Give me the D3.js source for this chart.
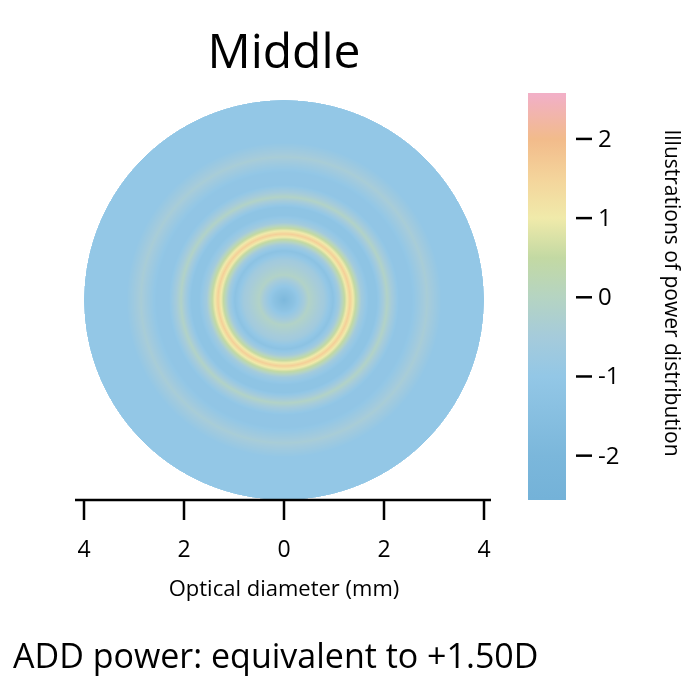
<!DOCTYPE html>
<html><head><meta charset="utf-8">
<script src="https://cdn.jsdelivr.net/npm/d3@7"></script>
<style>body{margin:0;background:#fff}#c{position:relative;width:700px;height:700px}canvas,svg{position:absolute;left:0;top:0}</style>
</head><body><div id="c"></div>
<script>
// radial power profile (mm -> D)
const radiusMm = [0, 0.2, 0.5, 0.8, 0.98, 1.1, 1.32, 1.55, 1.7, 1.85, 2.06, 2.3, 2.55, 2.86, 3.15, 4];
const power    = [-1.9, -1.3, -0.1, -0.6, -1.3, -0.6, 1.6, -0.6, -1.2, -1.2, -0.1, -1.1, -1.1, -0.4, -1.0, -1.0];
const barTicks = [2, 1, 0, -1, -2];
const axisTicks = [-4, -2, 0, 2, 4];
const colorStops = [-2.55, -2, -1, -0.5, 0, 0.5, 1, 1.5, 2, 2.55];
const colorVals = ["#74b2d8", "#7bb7db", "#93c7e6", "#a5cbdb", "#b5d4c2", "#c3d9a3", "#f0eaaa", "#f4d49b", "#f2bb8b", "#f2b0c6"];

const W = 700, H = 700, cx = 284, cy = 300, R = 200;
const color = d3.scaleLinear().domain(colorStops).range(colorVals).clamp(true);
const prof = d3.scaleLinear().domain(radiusMm).range(power).clamp(true);
const x = d3.scaleLinear().domain([-4, 4]).range([cx - R, cx + R]);

const canvas = d3.select("#c").append("canvas").attr("width", W).attr("height", H).node();
const ctx = canvas.getContext("2d");
const img = ctx.createImageData(2 * R, 2 * R);
for (let j = 0; j < 2 * R; j++) for (let i = 0; i < 2 * R; i++) {
  const dx = i - R + 0.5, dy = j - R + 0.5, d = Math.hypot(dx, dy);
  const k = 4 * (j * 2 * R + i);
  if (d > R) { img.data[k + 3] = 0; continue; }
  const c = d3.rgb(color(prof(d / R * 4)));
  img.data[k] = c.r; img.data[k + 1] = c.g; img.data[k + 2] = c.b;
  img.data[k + 3] = Math.min(1, R - d + 0.5) * 255;
}
ctx.putImageData(img, cx - R, cy - R);

const svg = d3.select("#c").append("svg").attr("width", W).attr("height", H)
  .style("font-family", "'Open Sans', sans-serif");

svg.append("text").attr("x", cx).attr("y", 68).attr("text-anchor", "middle")
  .attr("font-size", 48).text("Middle");

// x axis
const ax = svg.append("g").attr("transform", "translate(0,500)");
ax.append("line").attr("x1", 75).attr("x2", 491).attr("stroke", "#000").attr("stroke-width", 2.5);
ax.selectAll(".t").data(axisTicks).join("line").attr("x1", x).attr("x2", x)
  .attr("y1", 0).attr("y2", 20).attr("stroke", "#000").attr("stroke-width", 2.5);
ax.selectAll(".l").data(axisTicks).join("text").attr("x", x).attr("y", 57)
  .attr("text-anchor", "middle").attr("font-size", 23).text(d => Math.abs(d));
svg.append("text").attr("x", cx).attr("y", 596).attr("text-anchor", "middle")
  .attr("font-size", 22).text("Optical diameter (mm)");

// colorbar
const y = d3.scaleLinear().domain([2.58, -2.56]).range([93, 500]);
const grad = svg.append("defs").append("linearGradient").attr("id", "g")
  .attr("x1", 0).attr("x2", 0).attr("y1", 0).attr("y2", 1);
grad.selectAll("stop").data(colorStops.slice().reverse()).join("stop")
  .attr("offset", d => (y(d) - 93) / 407).attr("stop-color", d => color(d));
svg.append("rect").attr("x", 528).attr("y", 93).attr("width", 38).attr("height", 407).attr("fill", "url(#g)");
const cb = svg.append("g");
cb.selectAll("line").data(barTicks).join("line").attr("x1", 576).attr("x2", 592)
  .attr("y1", y).attr("y2", y).attr("stroke", "#000").attr("stroke-width", 2.5);
cb.selectAll("text").data(barTicks).join("text").attr("x", 598).attr("y", d => y(d) + 8)
  .attr("font-size", 24).text(d => d);
svg.append("text").attr("transform", "translate(665,293) rotate(90)").attr("text-anchor", "middle")
  .attr("font-size", 21).text("Illustrations of power distribution");

svg.append("text").attr("x", 13).attr("y", 668).attr("font-size", 34)
  .text("ADD power: equivalent to +1.50D");
</script></body></html>
